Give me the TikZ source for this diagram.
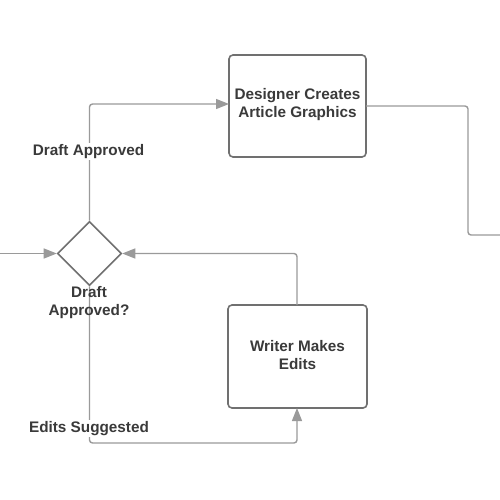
\documentclass[tikz,border=0pt]{standalone}
\usepackage{fontspec}
\setmainfont{Liberation Sans}
\usetikzlibrary{arrows.meta,shapes.geometric}
\definecolor{linegray}{HTML}{9A9A9A}
\definecolor{boxgray}{HTML}{707070}
\definecolor{txtgray}{HTML}{3A3A3A}
\begin{document}
\begin{tikzpicture}[x=1pt,y=-1pt,
  every node/.style={font=\bfseries\fontsize{15.3}{18}\selectfont,text=txtgray},
  procbox/.style={draw=boxgray,line width=1.6pt,rounded corners=4pt,fill=white},
  decis/.style={draw=boxgray,line width=1.6pt,fill=white,diamond,minimum width=64pt,minimum height=64pt,inner sep=0pt},
  conn/.style={draw=linegray,line width=1.4pt,rounded corners=3pt},
  arr/.style={conn,-{Triangle[length=13pt,width=10pt]}},
  lbl/.style={align=center,inner sep=0pt}]
\useasboundingbox (0,0) rectangle (500,500);
\fill[white] (0,0) rectangle (500,500);
% boxes
\path[procbox] (229,55) rectangle (366,157);
\node[lbl] (designer) at (297.5,104.5) {Designer Creates\\Article Graphics};
\coordinate (desL) at (229,104);
\coordinate (desR) at (366,106);
\path[procbox] (228,305) rectangle (367,408);
\node[lbl] (writer) at (297.5,355.5) {Writer Makes\\Edits};
\coordinate (wrT) at (297,305);
\coordinate (wrB) at (297,408);
% decision
\node[decis] (dec) at (89.5,253.5) {};
% connectors
\coordinate (inL) at (0,253.5);
\draw[arr] (inL) -- (dec.west);
\draw[arr] (dec.north) |- (desL);
\draw[arr] (wrT) |- (dec.east);
\draw[arr] (dec.south) |- (297,443) -- (wrB);
\coordinate (outR) at (500,235);
\draw[conn] (desR) -| (468,235) -- (outR);
% labels
\node[lbl,fill=white,inner sep=1pt] (la) at (88.5,151.5) {Draft Approved};
\node[lbl] (lq) at (89,303) {Draft\\Approved?};
\node[lbl,fill=white,inner sep=1pt] (le) at (89,428.5) {Edits Suggested};
\end{tikzpicture}
\end{document}
